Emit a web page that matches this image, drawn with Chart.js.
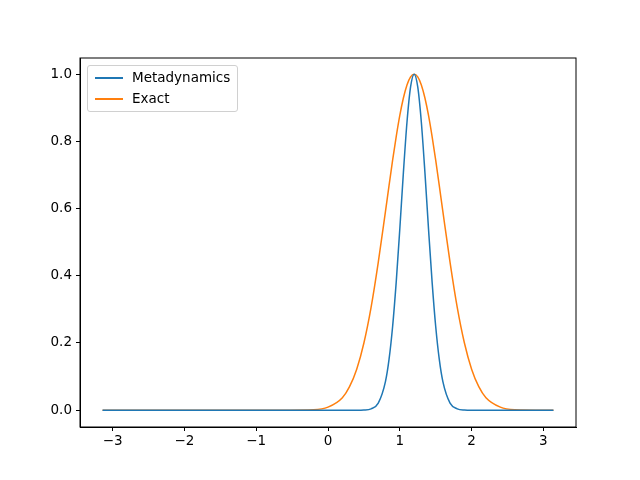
<!DOCTYPE html>
<html><head><script src="https://cdn.jsdelivr.net/npm/chart.js@4/dist/chart.umd.min.js"></script>
<style>body{margin:0;background:#fff}#wrap{position:relative;width:640px;height:480px}
#leg{position:absolute;left:87px;top:65px;width:149px;height:45px;border:1px solid #d0d0d0;border-radius:3px;background:rgba(255,255,255,0.8);font:13.5px "DejaVu Sans";color:#000}
.e{position:absolute;left:7px;height:20px;line-height:20px}.e span{display:inline-block;width:28px;height:2px;vertical-align:middle;margin-right:9px}</style></head>
<body><div id="wrap"><canvas id="c" width="640" height="480"></canvas>
<div id="leg"><div class="e" style="top:1px"><span style="background:#1f77b4"></span>Metadynamics</div><div class="e" style="top:22px"><span style="background:#ff7f0e"></span>Exact</div></div></div>
<script>
const xs=[-3.14,-2,-1,-0.2,0,0.2,0.3,0.4,0.5,0.6,0.7,0.8,0.85,0.9,0.95,1.0,1.05,1.1,1.15,1.2,1.25,1.3,1.35,1.4,1.45,1.5,1.55,1.6,1.7,1.8,1.9,2.0,2.1,2.2,2.4,2.6,3.14];
const meta=[0,0,0,0,0,0,0,0,0.0005,0.0039,0.021,0.085,0.151,0.249,0.381,0.539,0.707,0.857,0.962,1,0.962,0.857,0.707,0.539,0.381,0.249,0.151,0.085,0.021,0.0039,0.0005,0,0,0,0,0,0];
const exact=[0,0,0,0.0016,0.009,0.037,0.07,0.122,0.2,0.306,0.44,0.591,0.668,0.744,0.814,0.877,0.929,0.968,0.992,1,0.992,0.968,0.929,0.877,0.814,0.744,0.668,0.591,0.44,0.306,0.2,0.122,0.07,0.037,0.009,0.0016,0];
const xTicks=[-3,-2,-1,0,1,2,3];
const pts=a=>xs.map((x,i)=>({x,y:a[i]}));
const ds=(d,c)=>({data:pts(d),borderColor:c,borderWidth:1.5,pointRadius:0,fill:false,cubicInterpolationMode:'monotone'});
const tick={color:'#000',font:{family:'DejaVu Sans',size:13.5}};
const grid={drawOnChartArea:false,tickLength:4,color:'#000',tickColor:'#000'};
new Chart(document.getElementById('c'),{type:'line',data:{datasets:[ds(meta,'#1f77b4'),ds(exact,'#ff7f0e')]},
options:{responsive:false,animation:false,layout:{padding:{top:58,right:64,left:0,bottom:0}},
plugins:{legend:{display:false},tooltip:{enabled:false}},
scales:{x:{type:'linear',min:-3.454,max:3.454,grid,border:{color:'#000'},
 afterBuildTicks:a=>{a.ticks=xTicks.map(v=>({value:v}))},afterFit:a=>{a.height=53},
 ticks:{...tick,padding:2,callback:v=>String(v).replace('-','\u2212')}},
 y:{min:-0.05,max:1.048,grid,border:{color:'#000'},afterBuildTicks:a=>{a.ticks=[0,0.2,0.4,0.6,0.8,1].map(v=>({value:v}))},
 afterFit:a=>{a.width=80},ticks:{...tick,padding:4,callback:v=>v.toFixed(1)}}}},
plugins:[{id:'frame',afterDraw(c){const a=c.chartArea,x=c.ctx;x.save();x.strokeStyle='#000';x.lineWidth=1;x.strokeRect(a.left,a.top,a.right-a.left,a.bottom-a.top);x.restore();}}]});
</script></body></html>
